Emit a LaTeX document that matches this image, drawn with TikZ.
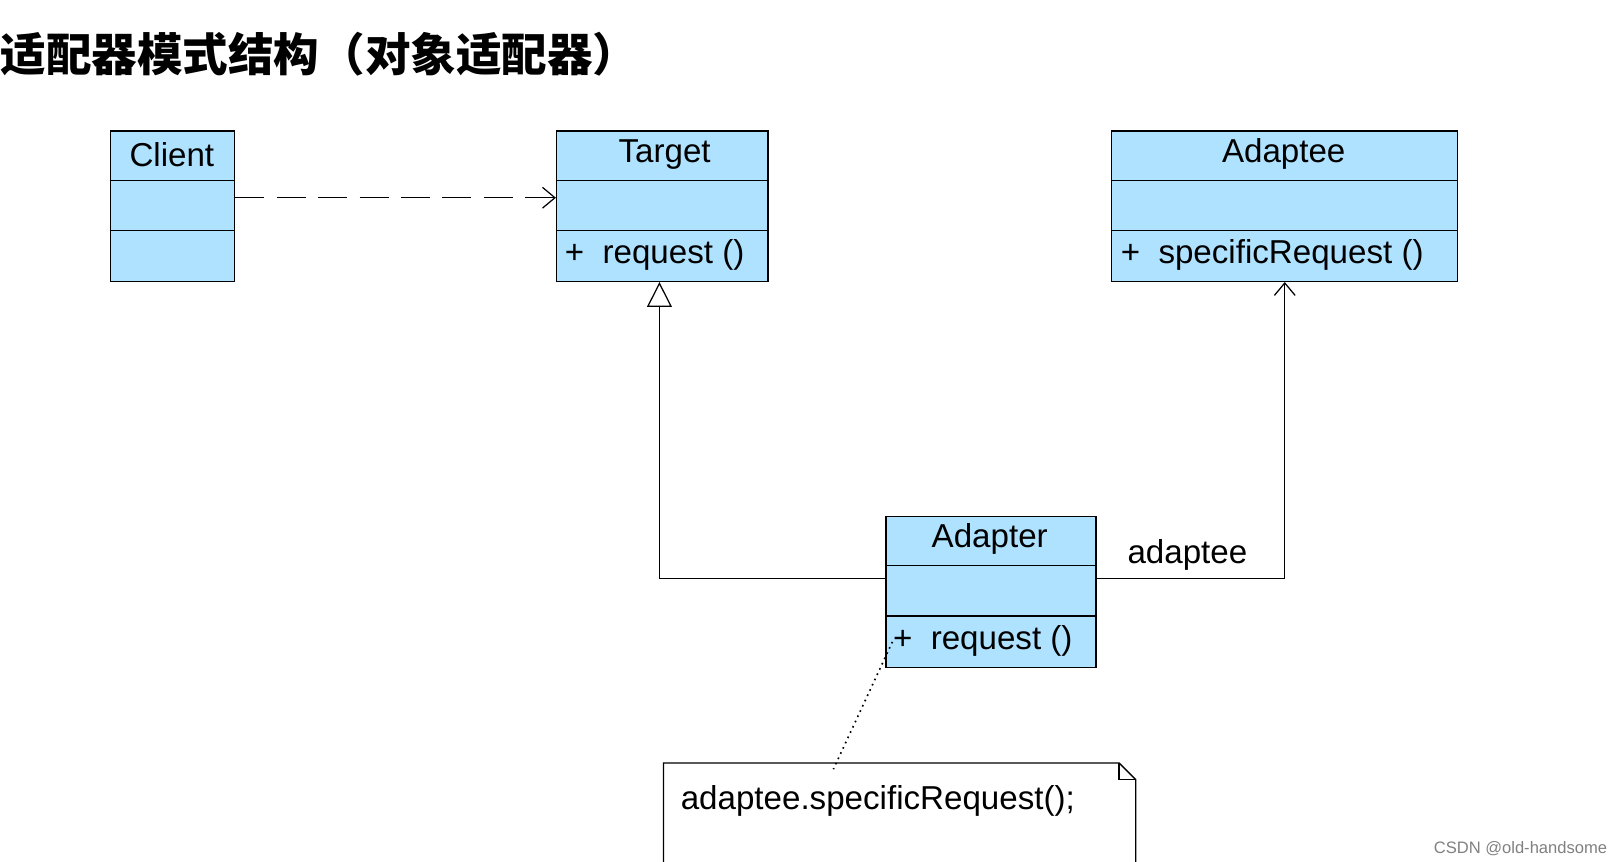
\documentclass[tikz,border=0pt]{standalone}
\usepackage{fontspec}
\setmainfont{Liberation Sans}
\newfontfamily\cjk{Noto Sans CJK SC}
\usetikzlibrary{arrows.meta,shapes.geometric}
\definecolor{cls}{HTML}{AEE2FF}
\tikzset{
  cls/.style={draw,fill=cls,line width=0.7pt,inner sep=0pt,anchor=north west},
  lbl/.style={font=\fontsize{16}{18}\selectfont,inner sep=0pt},
  open/.style={-{Straight Barb[length=6pt,width=10pt]}},
}
\begin{document}
\begin{tikzpicture}[x=0.5pt,y=-0.5pt,line width=0.6pt]
\useasboundingbox (0,0) rectangle (1560,832);
\node[anchor=west,font=\cjk\bfseries\fontsize{22}{24}\selectfont,inner sep=0pt] (title) at (0,52) {适配器模式结构（对象适配器）};
% Client
\node[cls,minimum width=60pt,minimum height=72.5pt] (client) at (106,126) {};
\draw (106,174) -- (226,174) (106,223) -- (226,223);
\node[lbl] (clientn) at (166,149) {Client};
% Target
\node[cls,minimum width=102pt,minimum height=72.5pt] (target) at (537,126) {};
\draw (537,174) -- (741,174) (537,223) -- (741,223);
\node[lbl] (targetn) at (642,149) {Target};
\node[lbl,anchor=west] (targetm) at (545,246) {+ \ request ()};
% Adaptee
\node[cls,minimum width=167pt,minimum height=72.5pt] (adaptee) at (1073,126) {};
\draw (1073,174) -- (1407,174) (1073,223) -- (1407,223);
\node[lbl] (adapteen) at (1240,149) {Adaptee};
\node[lbl,anchor=west] (adapteem) at (1082,246) {+ \ specificRequest ()};
% Adapter
\node[cls,minimum width=101.5pt,minimum height=73pt] (adapter) at (855,498) {};
\draw (855,546) -- (1058,546) (855,595) -- (1058,595);
\node[lbl] (adaptern) at (956,521) {Adapter};
\node[lbl,anchor=west] (adapterm) at (862,619) {+ \ request ()};
% Note
\coordinate (n1) at (641,737);
\draw[fill=white] (641,840) -- (641,737) -- (1081,737) -- (1097,753) -- (1097,840);
\draw (1081,737) -- (1081,753) -- (1097,753);
\node[lbl,anchor=west] (note) at (657,774) {adaptee.specificRequest();};
\coordinate (ntop) at (805,743);
\coordinate (nsrc) at (862,620);
\draw[dotted,line width=0.8pt] (nsrc) -- (ntop);
% connectors
\draw[dashed,dash pattern=on 14pt off 6pt,open] (client.east |- 0,191) -- (target.west |- 0,191);
\coordinate (g1) at (637,559);
\draw[-{Triangle[open,length=12pt,width=12pt]}] (adapter.west |- 0,559) -- (g1) -- (target.south -| g1);
\coordinate (a1) at (1241,559);
\draw[open] (adapter.east |- 0,559) -- (a1) -- (adaptee.south -| a1);
\node[lbl] (assoc) at (1147,536) {adaptee};
\node[font=\fontsize{8}{9}\selectfont,text=gray,anchor=east,inner sep=0pt] (wm) at (1553,820) {CSDN @old-handsome};
\end{tikzpicture}
\end{document}
